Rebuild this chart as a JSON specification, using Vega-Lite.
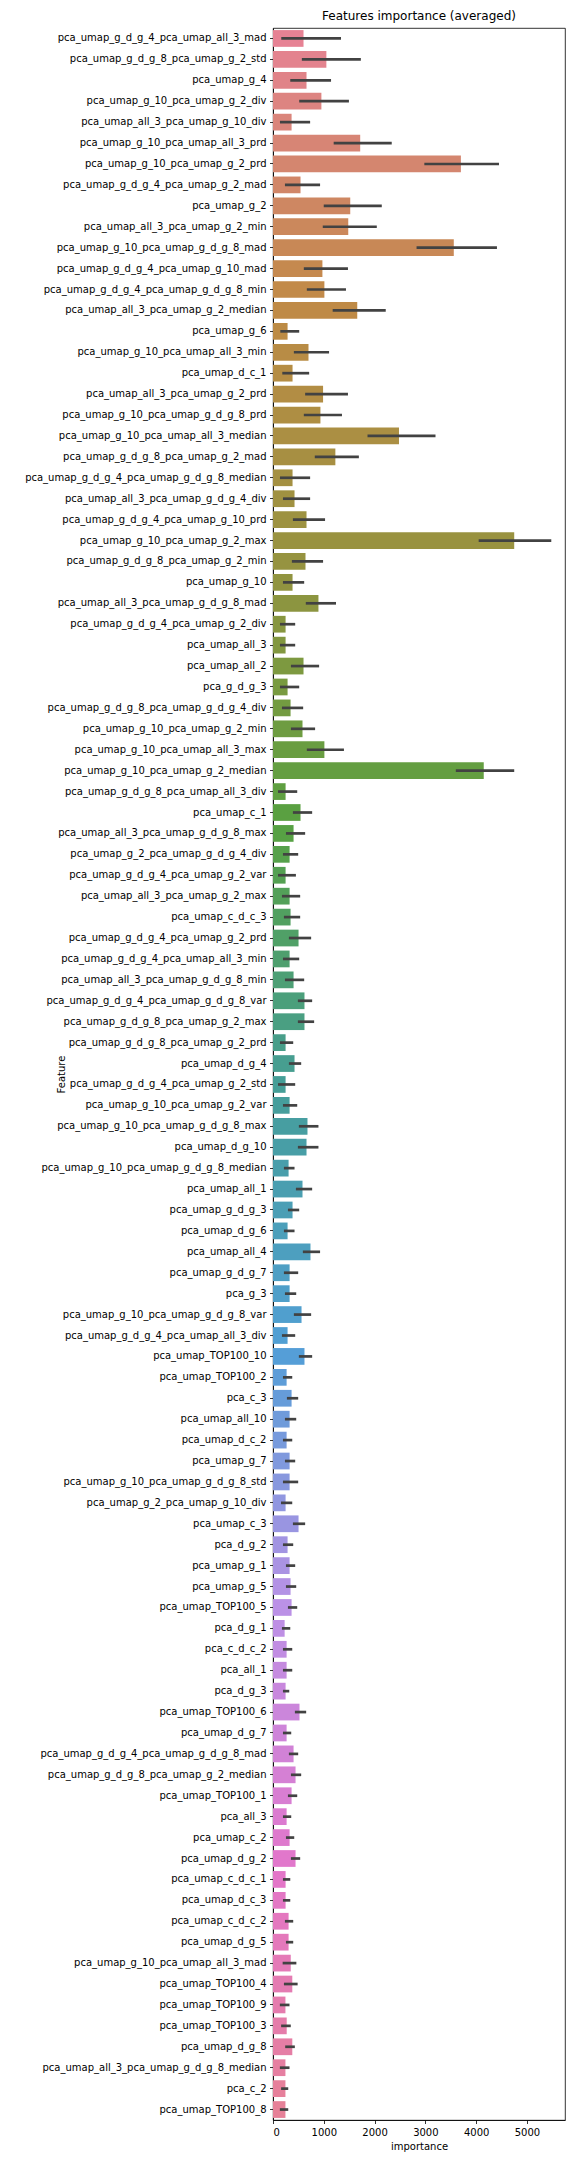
{
  "$schema": "https://vega.github.io/schema/vega-lite/v6.json",
  "description": "Averaged feature importance, horizontal bars with 95% error bars.",
  "width": 292,
  "height": 2092,
  "autosize": {"type": "none"},
  "padding": {"left": 273, "top": 28, "right": 11, "bottom": 40},
  "title": {"text": "Features importance (averaged)", "fontSize": 12, "fontWeight": "normal", "font": "DejaVu Sans", "color": "#000", "offset": 5},
  "data": {
    "values": [
      {"Feature": "pca_umap_g_d_g_4_pca_umap_all_3_mad", "importance": 601, "lo": 163, "hi": 1339},
      {"Feature": "pca_umap_g_d_g_8_pca_umap_g_2_std", "importance": 1051, "lo": 568, "hi": 1730},
      {"Feature": "pca_umap_g_4", "importance": 660, "lo": 340, "hi": 1143},
      {"Feature": "pca_umap_g_10_pca_umap_g_2_div", "importance": 953, "lo": 516, "hi": 1495},
      {"Feature": "pca_umap_all_3_pca_umap_g_10_div", "importance": 366, "lo": 137, "hi": 731},
      {"Feature": "pca_umap_g_10_pca_umap_all_3_prd", "importance": 1717, "lo": 1195, "hi": 2338},
      {"Feature": "pca_umap_g_10_pca_umap_g_2_prd", "importance": 3700, "lo": 2980, "hi": 4450},
      {"Feature": "pca_umap_g_d_g_4_pca_umap_g_2_mad", "importance": 542, "lo": 235, "hi": 927},
      {"Feature": "pca_umap_g_2", "importance": 1521, "lo": 999, "hi": 2142},
      {"Feature": "pca_umap_all_3_pca_umap_g_2_min", "importance": 1482, "lo": 980, "hi": 2044},
      {"Feature": "pca_umap_g_10_pca_umap_g_d_g_8_mad", "importance": 3560, "lo": 2827, "hi": 4410},
      {"Feature": "pca_umap_g_d_g_4_pca_umap_g_10_mad", "importance": 973, "lo": 607, "hi": 1476},
      {"Feature": "pca_umap_g_d_g_4_pca_umap_g_d_g_8_min", "importance": 1012, "lo": 666, "hi": 1437},
      {"Feature": "pca_umap_all_3_pca_umap_g_2_median", "importance": 1659, "lo": 1175, "hi": 2220},
      {"Feature": "pca_umap_g_6", "importance": 287, "lo": 144, "hi": 516},
      {"Feature": "pca_umap_g_10_pca_umap_all_3_min", "importance": 699, "lo": 411, "hi": 1104},
      {"Feature": "pca_umap_d_c_1", "importance": 385, "lo": 183, "hi": 712},
      {"Feature": "pca_umap_all_3_pca_umap_g_2_prd", "importance": 986, "lo": 633, "hi": 1476},
      {"Feature": "pca_umap_g_10_pca_umap_g_d_g_8_prd", "importance": 934, "lo": 607, "hi": 1358},
      {"Feature": "pca_umap_g_10_pca_umap_all_3_median", "importance": 2481, "lo": 1861, "hi": 3200},
      {"Feature": "pca_umap_g_d_g_8_pca_umap_g_2_mad", "importance": 1228, "lo": 823, "hi": 1691},
      {"Feature": "pca_umap_g_d_g_4_pca_umap_g_d_g_8_median", "importance": 385, "lo": 137, "hi": 731},
      {"Feature": "pca_umap_all_3_pca_umap_g_d_g_4_div", "importance": 424, "lo": 196, "hi": 731},
      {"Feature": "pca_umap_g_d_g_4_pca_umap_g_10_prd", "importance": 660, "lo": 392, "hi": 1025},
      {"Feature": "pca_umap_g_10_pca_umap_g_2_max", "importance": 4750, "lo": 4050, "hi": 5480},
      {"Feature": "pca_umap_g_d_g_8_pca_umap_g_2_min", "importance": 640, "lo": 372, "hi": 986},
      {"Feature": "pca_umap_g_10", "importance": 385, "lo": 196, "hi": 614},
      {"Feature": "pca_umap_all_3_pca_umap_g_d_g_8_mad", "importance": 895, "lo": 646, "hi": 1241},
      {"Feature": "pca_umap_g_d_g_4_pca_umap_g_2_div", "importance": 248, "lo": 137, "hi": 437},
      {"Feature": "pca_umap_all_3", "importance": 248, "lo": 137, "hi": 437},
      {"Feature": "pca_umap_all_2", "importance": 601, "lo": 353, "hi": 908},
      {"Feature": "pca_g_d_g_3", "importance": 287, "lo": 137, "hi": 516},
      {"Feature": "pca_umap_g_d_g_8_pca_umap_g_d_g_4_div", "importance": 346, "lo": 176, "hi": 594},
      {"Feature": "pca_umap_g_10_pca_umap_g_2_min", "importance": 581, "lo": 353, "hi": 829},
      {"Feature": "pca_umap_g_10_pca_umap_all_3_max", "importance": 1012, "lo": 666, "hi": 1397},
      {"Feature": "pca_umap_g_10_pca_umap_g_2_median", "importance": 4150, "lo": 3600, "hi": 4750},
      {"Feature": "pca_umap_g_d_g_8_pca_umap_all_3_div", "importance": 248, "lo": 98, "hi": 477},
      {"Feature": "pca_umap_c_1", "importance": 542, "lo": 392, "hi": 771},
      {"Feature": "pca_umap_all_3_pca_umap_g_d_g_8_max", "importance": 405, "lo": 255, "hi": 633},
      {"Feature": "pca_umap_g_2_pca_umap_g_d_g_4_div", "importance": 327, "lo": 196, "hi": 496},
      {"Feature": "pca_umap_g_d_g_4_pca_umap_g_2_var", "importance": 248, "lo": 98, "hi": 451},
      {"Feature": "pca_umap_all_3_pca_umap_g_2_max", "importance": 327, "lo": 176, "hi": 535},
      {"Feature": "pca_umap_c_d_c_3", "importance": 346, "lo": 215, "hi": 535},
      {"Feature": "pca_umap_g_d_g_4_pca_umap_g_2_prd", "importance": 503, "lo": 313, "hi": 751},
      {"Feature": "pca_umap_g_d_g_4_pca_umap_all_3_min", "importance": 327, "lo": 196, "hi": 516},
      {"Feature": "pca_umap_all_3_pca_umap_g_d_g_8_min", "importance": 405, "lo": 235, "hi": 614},
      {"Feature": "pca_umap_g_d_g_4_pca_umap_g_d_g_8_var", "importance": 620, "lo": 490, "hi": 771},
      {"Feature": "pca_umap_g_d_g_8_pca_umap_g_2_max", "importance": 620, "lo": 490, "hi": 810},
      {"Feature": "pca_umap_g_d_g_8_pca_umap_g_2_prd", "importance": 248, "lo": 137, "hi": 398},
      {"Feature": "pca_umap_d_g_4", "importance": 424, "lo": 313, "hi": 555},
      {"Feature": "pca_umap_g_d_g_4_pca_umap_g_2_std", "importance": 248, "lo": 98, "hi": 437},
      {"Feature": "pca_umap_g_10_pca_umap_g_2_var", "importance": 327, "lo": 196, "hi": 477},
      {"Feature": "pca_umap_g_10_pca_umap_g_d_g_8_max", "importance": 679, "lo": 509, "hi": 895},
      {"Feature": "pca_umap_d_g_10", "importance": 660, "lo": 490, "hi": 895},
      {"Feature": "pca_umap_g_10_pca_umap_g_d_g_8_median", "importance": 307, "lo": 215, "hi": 424},
      {"Feature": "pca_umap_all_1", "importance": 581, "lo": 451, "hi": 771},
      {"Feature": "pca_umap_g_d_g_3", "importance": 385, "lo": 294, "hi": 516},
      {"Feature": "pca_umap_d_g_6", "importance": 287, "lo": 215, "hi": 424},
      {"Feature": "pca_umap_all_4", "importance": 738, "lo": 588, "hi": 927},
      {"Feature": "pca_umap_g_d_g_7", "importance": 327, "lo": 215, "hi": 496},
      {"Feature": "pca_g_3", "importance": 327, "lo": 235, "hi": 457},
      {"Feature": "pca_umap_g_10_pca_umap_g_d_g_8_var", "importance": 562, "lo": 411, "hi": 751},
      {"Feature": "pca_umap_g_d_g_4_pca_umap_all_3_div", "importance": 287, "lo": 176, "hi": 437},
      {"Feature": "pca_umap_TOP100_10", "importance": 620, "lo": 509, "hi": 771},
      {"Feature": "pca_umap_TOP100_2", "importance": 268, "lo": 196, "hi": 379},
      {"Feature": "pca_c_3", "importance": 366, "lo": 274, "hi": 496},
      {"Feature": "pca_umap_all_10", "importance": 327, "lo": 235, "hi": 457},
      {"Feature": "pca_umap_d_c_2", "importance": 268, "lo": 196, "hi": 379},
      {"Feature": "pca_umap_g_7", "importance": 327, "lo": 235, "hi": 437},
      {"Feature": "pca_umap_g_10_pca_umap_g_d_g_8_std", "importance": 327, "lo": 196, "hi": 496},
      {"Feature": "pca_umap_g_2_pca_umap_g_10_div", "importance": 248, "lo": 157, "hi": 379},
      {"Feature": "pca_umap_c_3", "importance": 503, "lo": 392, "hi": 633},
      {"Feature": "pca_d_g_2", "importance": 287, "lo": 196, "hi": 398},
      {"Feature": "pca_umap_g_1", "importance": 327, "lo": 255, "hi": 437},
      {"Feature": "pca_umap_g_5", "importance": 346, "lo": 255, "hi": 457},
      {"Feature": "pca_umap_TOP100_5", "importance": 366, "lo": 294, "hi": 477},
      {"Feature": "pca_d_g_1", "importance": 229, "lo": 176, "hi": 340},
      {"Feature": "pca_c_d_c_2", "importance": 268, "lo": 196, "hi": 379},
      {"Feature": "pca_all_1", "importance": 268, "lo": 196, "hi": 379},
      {"Feature": "pca_d_g_3", "importance": 248, "lo": 196, "hi": 320},
      {"Feature": "pca_umap_TOP100_6", "importance": 522, "lo": 431, "hi": 653},
      {"Feature": "pca_umap_d_g_7", "importance": 268, "lo": 196, "hi": 359},
      {"Feature": "pca_umap_g_d_g_4_pca_umap_g_d_g_8_mad", "importance": 405, "lo": 313, "hi": 496},
      {"Feature": "pca_umap_g_d_g_8_pca_umap_g_2_median", "importance": 444, "lo": 353, "hi": 555},
      {"Feature": "pca_umap_TOP100_1", "importance": 366, "lo": 294, "hi": 477},
      {"Feature": "pca_all_3", "importance": 268, "lo": 196, "hi": 359},
      {"Feature": "pca_umap_c_2", "importance": 327, "lo": 255, "hi": 418},
      {"Feature": "pca_umap_d_g_2", "importance": 444, "lo": 353, "hi": 535},
      {"Feature": "pca_umap_c_d_c_1", "importance": 248, "lo": 196, "hi": 340},
      {"Feature": "pca_umap_d_c_3", "importance": 248, "lo": 196, "hi": 340},
      {"Feature": "pca_umap_c_d_c_2", "importance": 307, "lo": 235, "hi": 398},
      {"Feature": "pca_umap_d_g_5", "importance": 307, "lo": 255, "hi": 398},
      {"Feature": "pca_umap_g_10_pca_umap_all_3_mad", "importance": 350, "lo": 190, "hi": 460},
      {"Feature": "pca_umap_TOP100_4", "importance": 380, "lo": 215, "hi": 485},
      {"Feature": "pca_umap_TOP100_9", "importance": 245, "lo": 135, "hi": 325},
      {"Feature": "pca_umap_TOP100_3", "importance": 270, "lo": 160, "hi": 350},
      {"Feature": "pca_umap_d_g_8", "importance": 380, "lo": 240, "hi": 430},
      {"Feature": "pca_umap_all_3_pca_umap_g_d_g_8_median", "importance": 245, "lo": 135, "hi": 325},
      {"Feature": "pca_c_2", "importance": 245, "lo": 160, "hi": 300},
      {"Feature": "pca_umap_TOP100_8", "importance": 245, "lo": 135, "hi": 300}
    ]
  },
  "encoding": {
    "y": {
      "field": "Feature", "type": "nominal", "sort": null,
      "scale": {"paddingInner": 0.2, "paddingOuter": 0.1},
      "axis": {"title": "Feature", "labelLimit": 0, "titlePadding": 7}
    }
  },
  "layer": [
    {
      "mark": {"type": "bar"},
      "encoding": {
        "x": {
          "field": "importance", "type": "quantitative",
          "scale": {"domain": [0, 5750], "nice": false, "zero": true},
          "axis": {"title": "importance", "values": [0, 1000, 2000, 3000, 4000, 5000], "format": "d", "titlePadding": 4}
        },
        "color": {
          "field": "Feature", "type": "nominal", "sort": null, "legend": null,
          "scale": {
            "range": [
              "rgb(230,130,148)", "rgb(227,131,142)", "rgb(224,131,136)", "rgb(221,132,129)", "rgb(218,133,123)",
              "rgb(215,133,117)", "rgb(212,134,111)", "rgb(209,134,104)", "rgb(206,135,98)", "rgb(203,136,92)",
              "rgb(200,136,86)", "rgb(197,137,79)", "rgb(194,138,73)", "rgb(191,138,70)", "rgb(188,139,69)",
              "rgb(184,140,69)", "rgb(181,141,68)", "rgb(178,141,68)", "rgb(174,142,67)", "rgb(171,143,67)",
              "rgb(167,143,66)", "rgb(164,144,66)", "rgb(160,145,65)", "rgb(157,146,65)", "rgb(153,146,64)",
              "rgb(150,147,64)", "rgb(145,148,64)", "rgb(140,149,64)", "rgb(135,150,64)", "rgb(130,151,64)",
              "rgb(125,153,64)", "rgb(120,154,64)", "rgb(115,155,65)", "rgb(110,156,65)", "rgb(105,157,65)",
              "rgb(100,158,65)", "rgb(95,159,65)", "rgb(90,160,65)", "rgb(87,161,68)", "rgb(86,161,75)",
              "rgb(84,160,82)", "rgb(83,160,89)", "rgb(81,160,96)", "rgb(80,160,103)", "rgb(78,159,110)",
              "rgb(77,159,117)", "rgb(75,159,123)", "rgb(74,159,130)", "rgb(72,158,137)", "rgb(71,158,144)",
              "rgb(69,158,151)", "rgb(70,158,156)", "rgb(71,158,161)", "rgb(72,158,166)", "rgb(73,158,171)",
              "rgb(74,158,176)", "rgb(75,158,181)", "rgb(76,159,186)", "rgb(77,159,191)", "rgb(78,159,196)",
              "rgb(79,159,201)", "rgb(80,159,206)", "rgb(81,159,211)", "rgb(85,158,215)", "rgb(94,157,216)",
              "rgb(102,156,217)", "rgb(111,155,218)", "rgb(119,154,220)", "rgb(128,153,221)", "rgb(136,152,222)",
              "rgb(145,151,224)", "rgb(153,149,225)", "rgb(162,148,226)", "rgb(170,147,227)", "rgb(179,146,229)",
              "rgb(187,145,230)", "rgb(190,143,228)", "rgb(193,141,226)", "rgb(197,139,223)", "rgb(200,136,221)",
              "rgb(203,134,219)", "rgb(206,132,217)", "rgb(209,130,214)", "rgb(213,128,212)", "rgb(216,126,210)",
              "rgb(219,123,208)", "rgb(222,121,205)", "rgb(225,119,203)", "rgb(227,118,200)", "rgb(227,119,196)",
              "rgb(228,120,191)", "rgb(228,121,187)", "rgb(228,122,183)", "rgb(228,123,178)", "rgb(229,124,174)",
              "rgb(229,125,170)", "rgb(229,126,165)", "rgb(229,127,161)", "rgb(230,128,155)", "rgb(230,129,152)"
            ]
          }
        }
      }
    },
    {
      "mark": {"type": "rule", "color": "#424242", "strokeWidth": 2.7},
      "encoding": {
        "x": {"field": "lo", "type": "quantitative"},
        "x2": {"field": "hi"}
      }
    }
  ],
  "config": {
    "font": "DejaVu Sans",
    "view": {"stroke": "#000", "strokeWidth": 0.8},
    "axis": {
      "grid": false,
      "domainColor": "#000",
      "domainWidth": 0.8,
      "tickColor": "#000",
      "tickWidth": 0.8,
      "tickSize": 3.5,
      "labelPadding": 3.5,
      "labelFont": "DejaVu Sans",
      "labelFontSize": 10,
      "labelColor": "#000",
      "titleFont": "DejaVu Sans",
      "titleFontSize": 10,
      "titleFontWeight": "normal",
      "titleColor": "#000"
    }
  }
}
